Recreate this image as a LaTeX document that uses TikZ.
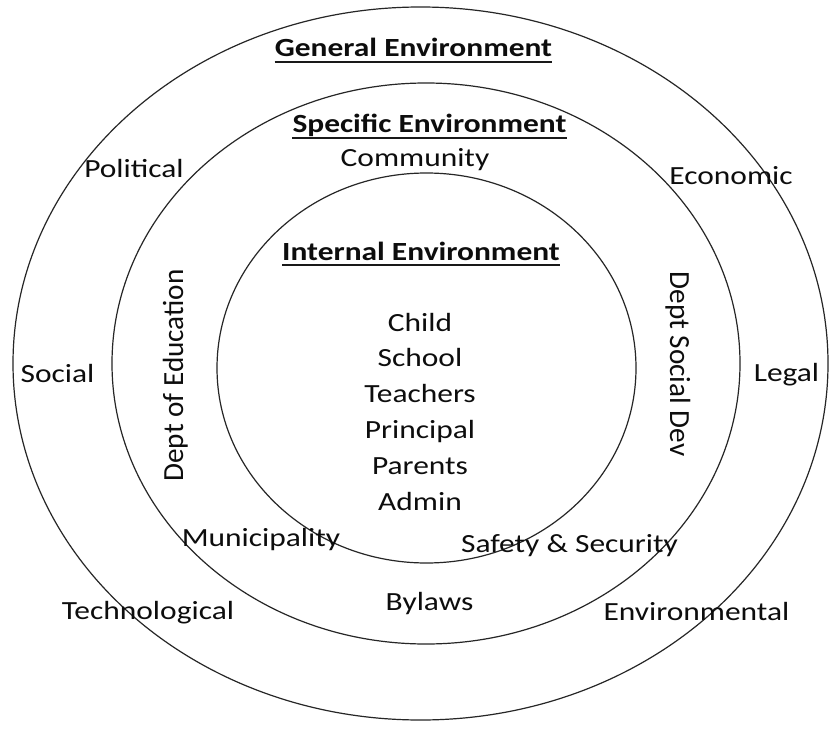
\documentclass[tikz,border=0pt]{standalone}
\usepackage{fontspec}
\setmainfont{Carlito}[FakeStretch=1.2]
\newfontfamily\rotfont{Carlito}
\begin{document}
\begin{tikzpicture}[x=1pt,y=-1pt,
  ring/.style={draw=black!85, line width=1.2pt},
  lbl/.style={font=\fontsize{26.2}{31}\selectfont, inner sep=0pt, anchor=base, text=black!95},
  ttl/.style={lbl, font=\fontsize{26.2}{31}\selectfont\bfseries},
  vlbl/.style={lbl, font=\rotfont\fontsize{29.2}{34}\selectfont},
  uline/.style={draw=black!90, line width=1.8pt}]
\useasboundingbox[fill=white] (0,0) rectangle (840,730);

% rings
\draw[ring] (420.5,363.5) ellipse [x radius=407.5, y radius=356.5];
\draw[ring] (426,363.5) ellipse [x radius=314, y radius=280.5];
\draw[ring] (426.5,368) ellipse [x radius=209.5, y radius=195];

% titles
\node[ttl] (ge) at (413.5,57) {General Environment};
\node[ttl] (se) at (429.5,133) {Specific Environment};
\node[ttl] (ie) at (421,260) {Internal Environment};
\draw[uline] ([yshift=-5pt]ge.base west) -- ([yshift=-5pt]ge.base east);
\draw[uline] ([yshift=-5pt]se.base west) -- ([yshift=-5pt]se.base east);
\draw[uline] ([yshift=-5pt]ie.base west) -- ([yshift=-5pt]ie.base east);

% general environment
\node[lbl] (pol) at (134,177.7) {Political};
\node[lbl] (eco) at (731,185) {Economic};
\node[lbl] (soc) at (57.5,382.7) {Social};
\node[lbl] (leg) at (786.5,381) {Legal};
\node[lbl] (tec) at (148,619) {Technological};
\node[lbl] (env) at (696.5,620) {Environmental};

% specific environment
\node[lbl] (com) at (415,166.7) {Community};
\node[vlbl, rotate=90] (edu) at (183,375.5) {Dept of Education};
\node[vlbl, rotate=-90] (dsd) at (670,364) {Dept Social Dev};
\node[lbl] (mun) at (261,546) {Municipality};
\node[lbl] (saf) at (569.5,552) {Safety \& Security};
\node[lbl] (byl) at (429.5,610.7) {Bylaws};

% internal environment
\node[lbl] (chi) at (420,331) {Child};
\node[lbl] (sch) at (420,366.8) {School};
\node[lbl] (tea) at (420,402.6) {Teachers};
\node[lbl] (pri) at (420,438.4) {Principal};
\node[lbl] (par) at (420,474.2) {Parents};
\node[lbl] (adm) at (420,510) {Admin};
\end{tikzpicture}
\end{document}
